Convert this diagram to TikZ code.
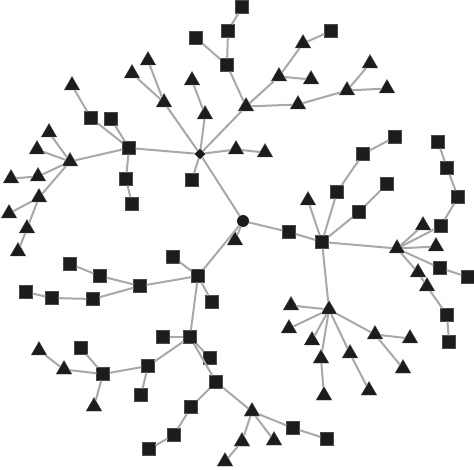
\documentclass[tikz,border=0pt]{standalone}
\usepackage{tikz}
\usetikzlibrary{shapes.geometric}
\definecolor{ink}{RGB}{28,28,28}
\definecolor{wire}{RGB}{168,168,168}
\tikzstyle{sq}=[rectangle, fill=ink, draw=ink!80, line width=.3pt, minimum size=13pt, inner sep=0pt]
\tikzstyle{tri}=[regular polygon, regular polygon sides=3, fill=ink, draw=ink!80, line width=.3pt, minimum size=18pt, inner sep=0pt, yshift=1.5pt]
\tikzstyle{dia}=[diamond, fill=ink, minimum size=11pt, inner sep=0pt]
\tikzstyle{dot}=[circle, fill=ink, minimum size=12pt, inner sep=0pt]
\tikzstyle{edge}=[draw=wire, line width=2pt]

\begin{document}
\begin{tikzpicture}[x=1pt, y=-1pt]
            \useasboundingbox (0,0) rectangle (474,470);
            %centre and the diamond hub
            \node[dot](c) at (243,221){};
            \node[dia](d) at (200,154){};
            %top branch
            \node[tri](tA) at (246,108){};
            \node[sq](sA1) at (227,65){};
            \node[sq](sA2) at (228,31){};
            \node[sq](sA3) at (242,7){};
            \node[sq](sA4) at (196,38){};
            \node[tri](tA1) at (279,78){};
            \node[tri](tA2) at (311,81){};
            \node[tri](tA3) at (303,45){};
            \node[sq](sA5) at (331,31){};
            \node[tri](tA4) at (298,106){};
            \node[tri](tA5) at (347,92){};
            \node[tri](tA6) at (370,65){};
            \node[tri](tA7) at (387,90){};
            \node[tri](tB1) at (205,116){};
            \node[tri](tB2) at (192,82){};
            \node[tri](tC1) at (164,104){};
            \node[tri](tC2) at (148,62){};
            \node[tri](tC3) at (132,75){};
            \node[tri](tD1) at (236,151){};
            \node[tri](tD2) at (265,154){};
            \node[sq](sE) at (192,180){};
            %left branch
            \node[sq](sF) at (129,148){};
            \node[sq](sF1) at (91,118){};
            \node[tri](tF1) at (72,87){};
            \node[sq](sF2) at (111,119){};
            \node[sq](sF3) at (126,179){};
            \node[sq](sF4) at (132,204){};
            \node[tri](tG) at (70,163){};
            \node[tri](tG1) at (49,134){};
            \node[tri](tG2) at (37,151){};
            \node[tri](tG3) at (38,178){};
            \node[tri](tG4) at (11,180){};
            \node[tri](tG5) at (39,199){};
            \node[tri](tG6) at (9,215){};
            \node[tri](tG7) at (27,230){};
            \node[tri](tG8) at (18,253){};
            %right branch
            \node[tri](tH) at (235,242){};
            \node[sq](sI) at (289,232){};
            \node[sq](sJ) at (322,242){};
            \node[tri](tJ1) at (308,202){};
            \node[sq](sJ1) at (337,192){};
            \node[sq](sJ2) at (363,154){};
            \node[sq](sJ3) at (395,137){};
            \node[sq](sJ4) at (359,212){};
            \node[sq](sJ5) at (387,184){};
            \node[tri](tK) at (397,250){};
            \node[tri](tK1) at (436,248){};
            \node[sq](sK1) at (440,268){};
            \node[sq](sK2) at (468,277){};
            \node[tri](tK2) at (418,274){};
            \node[tri](tK3) at (427,288){};
            \node[sq](sK3) at (447,315){};
            \node[sq](sK4) at (449,342){};
            \node[tri](tK4) at (423,227){};
            \node[sq](sK5) at (441,226){};
            \node[sq](sK6) at (458,197){};
            \node[sq](sK7) at (447,168){};
            \node[sq](sK8) at (438,142){};
            \node[tri](tL) at (329,311){};
            \node[tri](tL1) at (291,307){};
            \node[tri](tL2) at (289,330){};
            \node[tri](tL3) at (312,342){};
            \node[tri](tL4) at (321,360){};
            \node[tri](tL5) at (324,397){};
            \node[tri](tL6) at (350,355){};
            \node[tri](tL7) at (369,392){};
            \node[tri](tL8) at (375,336){};
            \node[tri](tL9) at (410,340){};
            \node[tri](tL10) at (403,370){};
            %bottom branch
            \node[sq](sM) at (198,276){};
            \node[sq](sM1) at (173,257){};
            \node[sq](sM2) at (212,302){};
            \node[sq](sM3) at (140,286){};
            \node[sq](sM4) at (100,276){};
            \node[sq](sM5) at (70,264){};
            \node[sq](sM6) at (93,299){};
            \node[sq](sM7) at (52,298){};
            \node[sq](sM8) at (26,292){};
            \node[sq](sN) at (190,337){};
            \node[sq](sN1) at (163,337){};
            \node[sq](sN2) at (148,366){};
            \node[sq](sN3) at (141,395){};
            \node[sq](sN4) at (103,374){};
            \node[sq](sN5) at (81,348){};
            \node[tri](tN1) at (64,371){};
            \node[tri](tN2) at (39,352){};
            \node[tri](tN3) at (94,408){};
            \node[sq](sN6) at (210,358){};
            \node[sq](sN7) at (216,382){};
            \node[sq](sN8) at (191,407){};
            \node[sq](sN9) at (174,435){};
            \node[sq](sN10) at (149,449){};
            \node[tri](tN4) at (252,413){};
            \node[tri](tN5) at (242,443){};
            \node[tri](tN6) at (225,463){};
            \node[tri](tN7) at (274,442){};
            \node[sq](sN11) at (293,428){};
            \node[sq](sN12) at (327,439){};
            %connectors
            \foreach \a/\b in {c/d, d/tA, tA/sA1, sA1/sA2, sA2/sA3, sA1/sA4,
                tA/tA1, tA1/tA2, tA1/tA3, tA3/sA5, tA/tA4, tA4/tA5, tA5/tA6, tA5/tA7,
                d/tB1, tB1/tB2, d/tC1, tC1/tC2, tC1/tC3, d/tD1, tD1/tD2, d/sE,
                d/sF, sF/sF1, sF1/tF1, sF/sF2, sF/sF3, sF3/sF4,
                sF/tG, tG/tG1, tG/tG2, tG/tG3, tG3/tG4, tG/tG5, tG5/tG6, tG5/tG7, tG7/tG8,
                c/tH, c/sI, sI/sJ, sJ/tJ1, sJ/sJ1, sJ1/sJ2, sJ2/sJ3, sJ/sJ4, sJ4/sJ5,
                sJ/tK, tK/tK1, tK/sK1, sK1/sK2, tK/tK2, tK2/tK3, tK3/sK3, sK3/sK4,
                tK/tK4, tK/sK5, sK5/sK6, sK6/sK7, sK7/sK8,
                sJ/tL, tL/tL1, tL/tL2, tL/tL3, tL/tL4, tL4/tL5, tL/tL6, tL6/tL7,
                tL/tL8, tL8/tL9, tL8/tL10,
                c/sM, sM/sM1, sM/sM2, sM/sM3, sM3/sM4, sM4/sM5, sM3/sM6, sM6/sM7, sM7/sM8,
                sM/sN, sN/sN1, sN/sN2, sN2/sN3, sN2/sN4, sN4/sN5, sN4/tN1, tN1/tN2, sN4/tN3,
                sN/sN6, sN/sN7, sN7/sN8, sN8/sN9, sN9/sN10,
                sN7/tN4, tN4/tN5, tN5/tN6, tN4/tN7, tN4/sN11, sN11/sN12}{
                \draw[edge] (\a) -- (\b);
            }
\end{tikzpicture}
\end{document}
